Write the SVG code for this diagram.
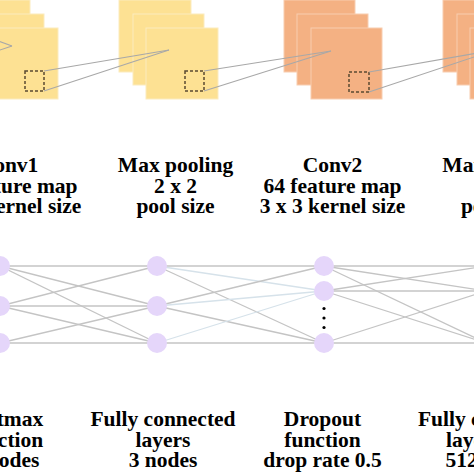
<svg xmlns="http://www.w3.org/2000/svg" width="474" height="474" viewBox="0 0 474 474">
<style>
.y{fill:#FDE193;stroke:#FBEBBE;stroke-width:1}
.o{fill:#F4B183;stroke:#F8CDB0;stroke-width:1}
.box{fill:none;stroke:#5A4A32;stroke-width:1.5;stroke-dasharray:3 2}
.ln{stroke:#A8A8A8;stroke-width:1.1;fill:none}
.g{stroke:#C4C4C4;stroke-width:1.3;fill:none}
.lb{stroke:#D6E2EA;stroke-width:1.3;fill:none}
.nd{fill:#E5D6FA}
.dot{fill:#000}
text{font-family:"Liberation Serif","Times New Roman",serif;font-weight:bold;font-size:21.5px;fill:#000;text-anchor:middle}
</style>
<rect width="474" height="474" fill="#fff"/>
<g id="stack1">
<rect class="y" x="-41" y="0" width="71" height="71"/>
<rect class="y" x="-27" y="14" width="71" height="71"/>
<rect class="y" x="-13" y="28" width="71" height="71"/>
<rect class="box" x="25" y="71" width="19" height="20"/>
</g>
<g id="stack2">
<rect class="y" x="119" y="0" width="72" height="72"/>
<rect class="y" x="133" y="14" width="71" height="71"/>
<rect class="y" x="146" y="28" width="72" height="71"/>
<rect class="box" x="185" y="71" width="19" height="20"/>
</g>
<g id="stack3">
<rect class="o" x="284" y="0" width="71" height="72"/>
<rect class="o" x="297" y="14" width="71" height="71"/>
<rect class="o" x="311" y="28" width="71" height="71"/>
<rect class="box" x="349" y="72" width="20" height="20"/>
</g>
<g id="stack4">
<rect class="o" x="443" y="0" width="71" height="72"/>
<rect class="o" x="457" y="14" width="71" height="71"/>
<rect class="o" x="470" y="28" width="71" height="71"/>
</g>
<g id="stack-connectors">
<line class="ln" x1="-30" y1="30.6" x2="12" y2="46"/>
<line class="ln" x1="-30" y1="60" x2="12" y2="46"/>
<line class="ln" x1="44" y1="71" x2="169" y2="50"/>
<line class="ln" x1="44" y1="91" x2="169" y2="50"/>
<line class="ln" x1="204" y1="71" x2="331" y2="51"/>
<line class="ln" x1="204" y1="91" x2="331" y2="51"/>
<line class="ln" x1="369" y1="72" x2="495" y2="50"/>
<line class="ln" x1="369" y1="92" x2="495" y2="50"/>
</g>
<g id="top-labels">
<text x="8.5" y="172">Conv1</text>
<text x="8.5" y="192.5">32 feature map</text>
<text x="8.5" y="213">3 x 3 kernel size</text>
<text x="175.5" y="172">Max pooling</text>
<text x="175.5" y="192.5">2 x 2</text>
<text x="175.5" y="213">pool size</text>
<text x="332.5" y="172">Conv2</text>
<text x="332.5" y="192.5">64 feature map</text>
<text x="332.5" y="213">3 x 3 kernel size</text>
<text x="500" y="172">Max pooling</text>
<text x="500" y="192.5">2 x 2</text>
<text x="500" y="213">pool size</text>
</g>
<g id="connectors">
<line class="g" x1="0" y1="266" x2="157" y2="266"/>
<line class="g" x1="0" y1="266" x2="157" y2="306"/>
<line class="g" x1="0" y1="266" x2="157" y2="343"/>
<line class="g" x1="0" y1="306" x2="157" y2="266"/>
<line class="g" x1="0" y1="306" x2="157" y2="306"/>
<line class="g" x1="0" y1="306" x2="157" y2="343"/>
<line class="g" x1="0" y1="343" x2="157" y2="306"/>
<line class="g" x1="0" y1="343" x2="157" y2="343"/>
<line class="g" x1="157" y1="266" x2="324" y2="266"/>
<line class="lb" x1="157" y1="266" x2="324" y2="291"/>
<line class="g" x1="157" y1="266" x2="324" y2="343"/>
<line class="g" x1="157" y1="306" x2="324" y2="266"/>
<line class="lb" x1="157" y1="306" x2="324" y2="291"/>
<line class="g" x1="157" y1="306" x2="324" y2="343"/>
<line class="lb" x1="157" y1="343" x2="324" y2="291"/>
<line class="g" x1="157" y1="343" x2="324" y2="343"/>
<line class="g" x1="324" y1="266" x2="486" y2="266"/>
<line class="g" x1="324" y1="266" x2="486" y2="291"/>
<line class="g" x1="324" y1="266" x2="486" y2="343"/>
<line class="g" x1="324" y1="291" x2="486" y2="266"/>
<line class="g" x1="324" y1="291" x2="486" y2="291"/>
<line class="g" x1="324" y1="291" x2="486" y2="343"/>
<line class="g" x1="324" y1="343" x2="486" y2="291"/>
<line class="g" x1="324" y1="343" x2="486" y2="343"/>
</g>
<g id="layer-softmax">
<circle class="nd" cx="0" cy="266" r="10"/>
<circle class="nd" cx="0" cy="306" r="10"/>
<circle class="nd" cx="0" cy="343" r="10"/>
</g>
<g id="layer-fc3">
<circle class="nd" cx="157" cy="266" r="10"/>
<circle class="nd" cx="157" cy="306" r="10"/>
<circle class="nd" cx="157" cy="343" r="10"/>
</g>
<g id="layer-dropout">
<circle class="nd" cx="324" cy="266" r="10"/>
<circle class="nd" cx="324" cy="291" r="10"/>
<circle class="nd" cx="324" cy="343" r="10"/>
<circle class="dot" cx="324" cy="308.5" r="1.6"/>
<circle class="dot" cx="324" cy="318" r="1.6"/>
<circle class="dot" cx="324" cy="327.5" r="1.6"/>
</g>
<g id="layer-fc512">
<circle class="nd" cx="486" cy="266" r="10"/>
<circle class="nd" cx="486" cy="291" r="10"/>
<circle class="nd" cx="486" cy="343" r="10"/>
</g>
<g id="bottom-labels">
<text x="5" y="426">Softmax</text>
<text x="5" y="447">function</text>
<text x="5" y="467">3 nodes</text>
<text x="163" y="426">Fully connected</text>
<text x="163" y="447">layers</text>
<text x="163" y="467">3 nodes</text>
<text x="322.5" y="426">Dropout</text>
<text x="322.5" y="447">function</text>
<text x="322.5" y="467">drop rate 0.5</text>
<text x="490.5" y="426">Fully connected</text>
<text x="473.5" y="447">layers</text>
<text x="490.5" y="467">512 nodes</text>
</g>
</svg>
